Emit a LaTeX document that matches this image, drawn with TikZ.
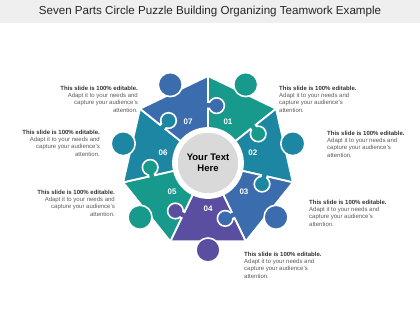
\documentclass[tikz,border=0pt]{standalone}
\usepackage{fontspec}
\setmainfont{Liberation Sans}
\usetikzlibrary{positioning}
\definecolor{pzgreen}{HTML}{17998B}
\definecolor{pzteal}{HTML}{1D87A3}
\definecolor{pzblue}{HTML}{3B6CAE}
\definecolor{pzpurple}{HTML}{5A4EA0}
\definecolor{pzgray}{HTML}{D9D9D9}
\definecolor{titlebar}{HTML}{EFEFEF}
\definecolor{bodytext}{HTML}{5A5A5A}
\newcommand{\slidenote}{\textbf{\textcolor{black!80}{This slide is 100\% editable.}}\\
  Adapt it to your needs and\\capture your audience's\\attention.}

\begin{document}
\begin{tikzpicture}[x=1pt, y=1pt,
    piece/.style={draw=white, line width=1.8pt, line join=round},
    knob/.style={draw=white, line width=1.6pt},
    num/.style={text=white, font=\fontsize{8}{8}\selectfont\bfseries},
    note/.style={inner sep=0pt, text=bodytext,
                 font=\fontsize{6}{7.4}\selectfont},
  ]
  \useasboundingbox (0,0) rectangle (420,315);

  % Title bar
  \fill[titlebar] (0,292) rectangle (420,315);
  \node[font=\fontsize{11.6}{13}\selectfont, text=black!85] (title) at (210,303)
    {Seven Parts Circle Puzzle Building Organizing Teamwork Example};

  \begin{scope}[shift={(208,152)}]
    % Puzzle pieces with outer knobs
    \foreach \a/\col in {64.29/pzgreen, 12.86/pzteal, -38.57/pzblue,
        -90/pzpurple, -141.43/pzgreen, -192.86/pzteal, -244.29/pzblue}{
      \filldraw[piece, fill=\col] (\a+25.71:35) -- (\a+25.71:87)
        -- (\a-25.71:87) -- (\a-25.71:35)
        arc[start angle=\a-25.71, end angle=\a+25.71, radius=35] -- cycle;
      \filldraw[knob, fill=\col] (\a:87) circle (12);
    }

    % Tabs into the next piece
    \foreach \a/\col in {64.29/pzgreen, 12.86/pzteal, -38.57/pzblue,
        -90/pzpurple, -141.43/pzgreen, -192.86/pzteal, -244.29/pzblue}{
      \draw[white, line width=8.5pt] (\a-25.71:58) -- (\a-34.2:58);
      \filldraw[knob, fill=\col] (\a-34.2:58) circle (7.8);
      \draw[\col, line width=4.5pt] (\a-22:58) -- (\a-34.2:58);
    }

    % Numbers
    \foreach \a/\n in {64.29/01, 12.86/02, -38.57/03, -90/04,
        -141.43/05, -192.86/06, -244.29/07}
      \node[num] (n\n) at (\a:46) {\n};

    % Hub
    \filldraw[fill=pzgray, draw=white, line width=1.5pt] (0,0) circle (31);
    \node[align=center, font=\fontsize{9.5}{11.5}\selectfont\bfseries] (hub)
      at (0,0) {Your Text\\Here};
  \end{scope}

  % Notes, left side
  \node[note, anchor=north east, align=right] (note7) at (138,229.5) {\slidenote};
  \node[note, anchor=north east, align=right] (note6) at (100,185.5) {\slidenote};
  \node[note, anchor=north east, align=right] (note5) at (115,125.5) {\slidenote};

  % Notes, right side
  \node[note, anchor=north west, align=left] (note1) at (279,229.5) {\slidenote};
  \node[note, anchor=north west, align=left] (note2) at (327,184.5) {\slidenote};
  \node[note, anchor=north west, align=left] (note3) at (309,115.5) {\slidenote};
  \node[note, anchor=north west, align=left] (note4) at (244,63.5) {\slidenote};
\end{tikzpicture}
\end{document}
